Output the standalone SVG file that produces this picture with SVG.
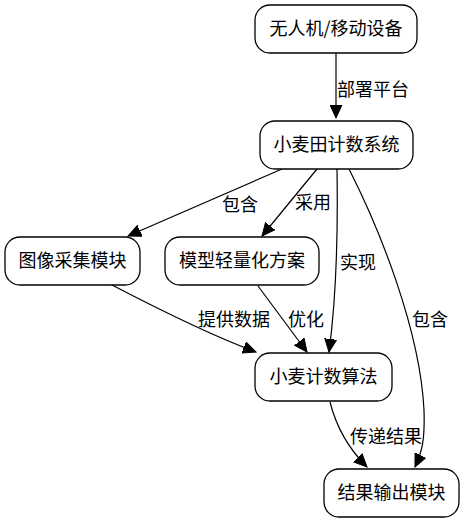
<svg xmlns="http://www.w3.org/2000/svg" width="465" height="523" viewBox="0 0 465 523">
<style>
.node rect{fill:#fff;stroke:#000;stroke-width:1.3}
text{font-family:"Noto Sans CJK SC","Liberation Sans",sans-serif;font-size:18px;fill:#000}
.node text{text-anchor:middle}
.edge path{fill:none;stroke:#000;stroke-width:1.2;marker-end:url(#arr)}
</style>
<defs>
<marker id="arr" markerUnits="userSpaceOnUse" markerWidth="14" markerHeight="13" refX="13" refY="6" orient="auto" viewBox="0 0 14 12">
<path d="M0,0 L13,6 L0,12 z" fill="#000" stroke="#000" stroke-width="1"/>
</marker>
</defs>
<rect width="465" height="523" fill="#fff"/>
<g id="edges" class="edge">
<path d="M336,53 L336,118"/>
<path d="M282,169 L128,236"/>
<path d="M317,169 L262,236"/>
<path d="M337,169 C338,230 336,300 329,352"/>
<path d="M349,169 C380,230 420,330 424,410 C425,440 422,452 415,467"/>
<path d="M112,285 C160,310 210,335 256,352"/>
<path d="M258,286 L307,352"/>
<path d="M330,402 C337,430 350,450 367,467"/>
</g>
<g id="labels">
<text x="337" y="96">部署平台</text>
<text x="222" y="211">包含</text>
<text x="295" y="209">采用</text>
<text x="340" y="269">实现</text>
<text x="412" y="326">包含</text>
<text x="198" y="326">提供数据</text>
<text x="288" y="326">优化</text>
<text x="350" y="443">传递结果</text>
</g>
<g id="n1" class="node"><rect x="255" y="5" width="162" height="48" rx="15"/><text x="336" y="35">无人机/移动设备</text></g>
<g id="n2" class="node"><rect x="260" y="121" width="153" height="48" rx="15"/><text x="336.5" y="151">小麦田计数系统</text></g>
<g id="n3" class="node"><rect x="5" y="237" width="135" height="48" rx="15"/><text x="72.5" y="267">图像采集模块</text></g>
<g id="n4" class="node"><rect x="165" y="237" width="154" height="48" rx="15"/><text x="242" y="267">模型轻量化方案</text></g>
<g id="n5" class="node"><rect x="255" y="353" width="137" height="48" rx="15"/><text x="323.5" y="383">小麦计数算法</text></g>
<g id="n6" class="node"><rect x="324" y="469" width="135" height="48" rx="15"/><text x="391.5" y="499">结果输出模块</text></g>
</svg>
